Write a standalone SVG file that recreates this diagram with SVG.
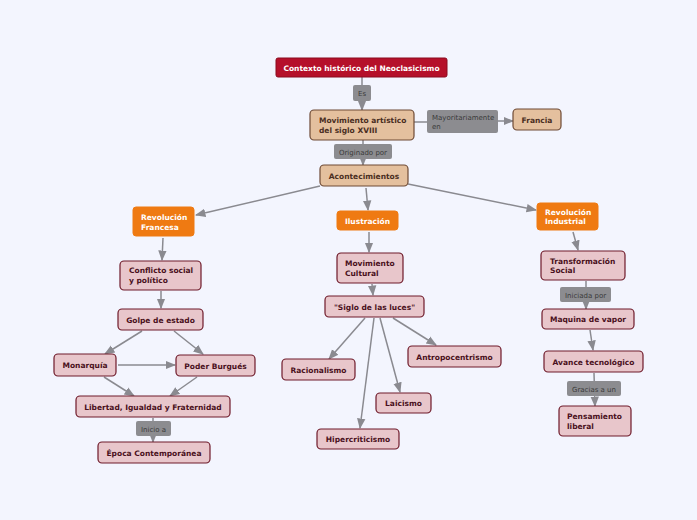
<svg xmlns="http://www.w3.org/2000/svg" width="697" height="520" viewBox="0 0 697 520">
<defs>
<marker id="ar" viewBox="0 0 10 10" refX="9" refY="5" markerWidth="7" markerHeight="7" orient="auto"><path d="M0,1 L10,5 L0,9 Z" fill="#8a8a90"/></marker>
<style>
text{font-family:"DejaVu Sans",Verdana,sans-serif;font-size:7.5px;font-weight:bold}
.c line,.c path{stroke:#8a8a90;stroke-width:1.5;fill:none;marker-end:url(#ar)}
.c .n{marker-end:none}
.root rect{fill:#b5102a;stroke:#8a0a1f}
.root text{fill:#fff}
.tan rect{fill:#e4c09e;stroke:#6e4a35;stroke-width:1.2}
.tan text{fill:#4a2e22}
.or rect{fill:#ef7a12;stroke:#ef7a12}
.or text{fill:#fff}
.pk rect{fill:#e8c6cb;stroke:#6e1a2a;stroke-width:1.2}
.pk text{fill:#4a1020}
.lb rect{fill:#8c8c90;stroke:none}
.lb text{fill:#3a3a3a;font-weight:normal;font-size:7px}
</style>
</defs>
<rect width="697" height="520" fill="#f3f5fe"/>
<g class="c">
<line x1="362" y1="77" x2="362" y2="110"/>
<line class="n" x1="414" y1="122" x2="427" y2="122"/>
<line x1="498" y1="121" x2="513" y2="121"/>
<line x1="363" y1="140" x2="363" y2="165"/>
<line x1="320" y1="186" x2="196" y2="215"/>
<line x1="366" y1="188" x2="368" y2="210"/>
<line x1="408" y1="184" x2="536" y2="210"/>
<line x1="163" y1="238" x2="162" y2="260"/>
<line x1="161" y1="291" x2="161" y2="308"/>
<line x1="142" y1="331" x2="105" y2="354"/>
<line x1="174" y1="331" x2="203" y2="354"/>
<line x1="118" y1="365" x2="175" y2="365"/>
<line x1="104" y1="377" x2="134" y2="396"/>
<line x1="197" y1="377" x2="170" y2="396"/>
<line x1="153" y1="418" x2="153" y2="442"/>
<line x1="369" y1="232" x2="369" y2="252"/>
<line x1="372" y1="284" x2="373" y2="295"/>
<line x1="365" y1="318" x2="329" y2="359"/>
<line x1="393" y1="318" x2="436" y2="345"/>
<line x1="380" y1="318" x2="400" y2="392"/>
<line x1="374" y1="318" x2="360" y2="428"/>
<line x1="573" y1="232" x2="578" y2="250"/>
<line x1="586" y1="281" x2="586" y2="309"/>
<line x1="590" y1="330" x2="593" y2="350"/>
<line x1="594" y1="373" x2="595" y2="406"/>
</g>
<g id="contexto" class="root"><rect x="276" y="58" width="171" height="19" rx="2"/><text x="361.5" y="70.5" text-anchor="middle">Contexto histórico del Neoclasicismo</text></g>
<g id="l-es" class="lb"><rect x="353" y="85" width="18" height="16" rx="2"/><text x="362" y="95.5" text-anchor="middle">Es</text></g>
<g id="movart" class="tan"><rect x="310" y="110" width="104" height="30" rx="4"/><text x="319" y="123">Movimiento artístico</text><text x="319" y="133">del siglo XVIII</text></g>
<g id="l-may" class="lb"><rect x="427" y="110" width="71" height="23" rx="2"/><text x="432" y="119.5">Mayoritariamente</text><text x="432" y="129">en</text></g>
<g id="francia" class="tan"><rect x="513" y="109" width="48" height="21" rx="4"/><text x="537" y="122.5" text-anchor="middle">Francia</text></g>
<g id="l-orig" class="lb"><rect x="334" y="144" width="58" height="15" rx="2"/><text x="363" y="154.5" text-anchor="middle">Originado por</text></g>
<g id="acont" class="tan"><rect x="320" y="165" width="88" height="21" rx="4"/><text x="364" y="178.5" text-anchor="middle">Acontecimientos</text></g>
<g id="revfr" class="or"><rect x="133" y="207" width="61" height="29" rx="3"/><text x="141" y="219.5">Revolución</text><text x="141" y="229.5">Francesa</text></g>
<g id="ilus" class="or"><rect x="337" y="211" width="61" height="19" rx="3"/><text x="367.5" y="223.5" text-anchor="middle">Ilustración</text></g>
<g id="revin" class="or"><rect x="537" y="203" width="61" height="27" rx="3"/><text x="545" y="214.5">Revolución</text><text x="545" y="224">Industrial</text></g>
<g id="conf" class="pk"><rect x="120" y="261" width="81" height="29" rx="4"/><text x="129" y="273">Conflicto social</text><text x="129" y="283">y político</text></g>
<g id="golpe" class="pk"><rect x="118" y="309" width="85" height="21" rx="4"/><text x="160.5" y="322.5" text-anchor="middle">Golpe de estado</text></g>
<g id="mon" class="pk"><rect x="54" y="354" width="62" height="22" rx="4"/><text x="85" y="368" text-anchor="middle">Monarquía</text></g>
<g id="poder" class="pk"><rect x="176" y="355" width="79" height="21" rx="4"/><text x="215.5" y="368.5" text-anchor="middle">Poder Burgués</text></g>
<g id="lib" class="pk"><rect x="76" y="396" width="154" height="21" rx="4"/><text x="153" y="409.5" text-anchor="middle">Libertad, Igualdad y Fraternidad</text></g>
<g id="l-ini" class="lb"><rect x="136" y="421" width="35" height="15" rx="2"/><text x="153.5" y="431.5" text-anchor="middle">Inicio a</text></g>
<g id="epoca" class="pk"><rect x="98" y="442" width="112" height="21" rx="4"/><text x="154" y="455.5" text-anchor="middle">Época Contemporánea</text></g>
<g id="movcul" class="pk"><rect x="337" y="253" width="66" height="30" rx="4"/><text x="345" y="266">Movimiento</text><text x="345" y="276">Cultural</text></g>
<g id="siglo" class="pk"><rect x="325" y="296" width="99" height="21" rx="4"/><text x="374.5" y="309.5" text-anchor="middle">"Siglo de las luces"</text></g>
<g id="racio" class="pk"><rect x="282" y="359" width="73" height="21" rx="4"/><text x="318.5" y="372.5" text-anchor="middle">Racionalismo</text></g>
<g id="antro" class="pk"><rect x="408" y="346" width="93" height="21" rx="4"/><text x="454.5" y="359.5" text-anchor="middle">Antropocentrismo</text></g>
<g id="laic" class="pk"><rect x="376" y="393" width="55" height="20" rx="4"/><text x="403.5" y="406" text-anchor="middle">Laicismo</text></g>
<g id="hiper" class="pk"><rect x="317" y="429" width="82" height="20" rx="4"/><text x="358" y="442" text-anchor="middle">Hipercriticismo</text></g>
<g id="trans" class="pk"><rect x="541" y="251" width="84" height="29" rx="4"/><text x="550" y="263.5">Transformación</text><text x="550" y="273">Social</text></g>
<g id="l-inic" class="lb"><rect x="560" y="287" width="51" height="15" rx="2"/><text x="585.5" y="297.5" text-anchor="middle">Iniciada por</text></g>
<g id="maq" class="pk"><rect x="542" y="309" width="92" height="20" rx="4"/><text x="588" y="322" text-anchor="middle">Maquina de vapor</text></g>
<g id="avance" class="pk"><rect x="544" y="351" width="99" height="21" rx="4"/><text x="593.5" y="364.5" text-anchor="middle">Avance tecnológico</text></g>
<g id="l-grac" class="lb"><rect x="567" y="381" width="54" height="15" rx="2"/><text x="594" y="391.5" text-anchor="middle">Gracias a un</text></g>
<g id="pens" class="pk"><rect x="559" y="406" width="72" height="30" rx="4"/><text x="567" y="418.5">Pensamiento</text><text x="567" y="428.5">liberal</text></g>
</svg>
